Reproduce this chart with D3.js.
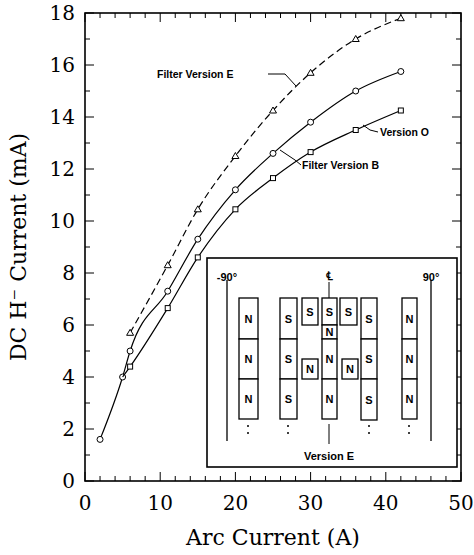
<!DOCTYPE html>
<html><head><meta charset="utf-8">
<script src="https://cdn.jsdelivr.net/npm/d3@7"></script>
<style>body{margin:0;background:#fff}</style>
</head><body><div id="chart"></div>
<script>
var xCircle = [2, 5, 6, 11, 15, 20, 25, 30, 36, 42];
var yCircle = [1.6, 4.0, 5.0, 7.3, 9.3, 11.2, 12.6, 13.8, 15.0, 15.75];
var xSquare = [5, 6, 11, 15, 20, 25, 30, 36, 42];
var ySquare = [4.0, 4.4, 6.65, 8.6, 10.45, 11.65, 12.65, 13.5, 14.25];
var xTri = [6, 11, 15, 20, 25, 30, 36, 42];
var yTri = [5.7, 8.3, 10.45, 12.5, 14.25, 15.7, 17.0, 17.8];
var xTicks = [0, 10, 20, 30, 40, 50];
var yTicks = [0, 2, 4, 6, 8, 10, 12, 14, 16, 18];
// inset magnets: [x0, x1, y0, y1, label] in inset units (0..250 x 0..210)
var magnets = [
  [32,51,40,81,"N"],[32,51,81,121,"N"],[32,51,121,161,"N"],
  [73,90,40,81,"S"],[73,90,81,121,"S"],[73,90,121,161,"S"],
  [95,111,40,67,"S"],[95,111,101,121,"N"],
  [115,130,40,67,"S"],[115,130,67,81,"N"],[115,130,81,121,"N"],[115,130,121,161,"N"],
  [133,150,40,67,"S"],[135,151,101,121,"N"],
  [154,170,40,81,"S"],[154,170,81,121,"S"],[154,170,121,162,"S"],
  [195,210,40,81,"N"],[195,210,81,121,"N"],[195,210,121,161,"N"]
];
var dotCols = [41, 81, 162, 202];

var W = 474, H = 555;
var svg = d3.select("#chart").append("svg").attr("width", W).attr("height", H);
var x = d3.scaleLinear().domain([0, 50]).range([85, 461]);
var y = d3.scaleLinear().domain([0, 18]).range([481, 13]);
var serif = "'DejaVu Serif', serif", sans = "'Liberation Sans', Arial, sans-serif";

svg.append("rect").attr("x", 85).attr("y", 13).attr("width", 376).attr("height", 468)
  .attr("fill", "none").attr("stroke", "#000").attr("stroke-width", 1.6);

// ticks inward, all four sides
d3.range(0, 51, 2).forEach(function(v){
  var len = v % 10 === 0 ? 9 : 5;
  svg.append("line").attr("x1", x(v)).attr("x2", x(v)).attr("y1", 481).attr("y2", 481 - len).attr("stroke", "#000");
  svg.append("line").attr("x1", x(v)).attr("x2", x(v)).attr("y1", 13).attr("y2", 13 + len).attr("stroke", "#000");
});
d3.range(0, 19, 1).forEach(function(v){
  var len = v % 2 === 0 ? 9 : 5;
  svg.append("line").attr("y1", y(v)).attr("y2", y(v)).attr("x1", 85).attr("x2", 85 + len).attr("stroke", "#000");
  svg.append("line").attr("y1", y(v)).attr("y2", y(v)).attr("x1", 461).attr("x2", 461 - len).attr("stroke", "#000");
});
xTicks.forEach(function(v){
  svg.append("text").attr("x", x(v)).attr("y", 510).attr("text-anchor", "middle")
    .attr("font-family", serif).attr("font-size", 20).text(v);
});
yTicks.forEach(function(v){
  svg.append("text").attr("x", 75).attr("y", y(v) + 7).attr("text-anchor", "end")
    .attr("font-family", serif).attr("font-size", 20).text(v);
});
svg.append("text").attr("x", 273).attr("y", 545).attr("text-anchor", "middle")
  .attr("font-family", serif).attr("font-size", 22).text("Arc Current (A)");
svg.append("text").attr("transform", "translate(26,247) rotate(-90)").attr("text-anchor", "middle")
  .attr("font-family", serif).attr("font-size", 22).text("DC H\u207B Current (mA)");

var line = d3.line().curve(d3.curveMonotoneX);
function series(xs, ys, dash){
  var pts = xs.map(function(v, i){ return [x(v), y(ys[i])]; });
  svg.append("path").attr("d", line(pts)).attr("fill", "none").attr("stroke", "#000")
    .attr("stroke-width", 1.2).attr("stroke-dasharray", dash || null);
  return pts;
}
series(xCircle, yCircle).forEach(function(p){
  svg.append("circle").attr("cx", p[0]).attr("cy", p[1]).attr("r", 3).attr("fill", "#fff").attr("stroke", "#000");
});
series(xSquare, ySquare).forEach(function(p, i){
  if (i === 0) return;
  svg.append("rect").attr("x", p[0] - 2.5).attr("y", p[1] - 2.5).attr("width", 5).attr("height", 5).attr("fill", "#fff").attr("stroke", "#000");
});
series(xTri, yTri, "7,4").forEach(function(p){
  svg.append("path").attr("d", "M" + p[0] + "," + (p[1] - 3.5) + "l3.5,6h-7z").attr("fill", "#fff").attr("stroke", "#000");
});

// annotations
function label(tx, ty, t){
  svg.append("text").attr("x", tx).attr("y", ty).attr("font-family", sans).attr("font-weight", "bold")
    .attr("font-size", 10.5).text(t);
}
label(157, 78, "Filter  Version E");
svg.append("path").attr("d", "M268,74 L285,74 L296,86").attr("fill", "none").attr("stroke", "#000");
label(380, 136, "Version O");
svg.append("path").attr("d", "M378,132 L370,130 L363,125").attr("fill", "none").attr("stroke", "#000");
label(302, 169, "Filter Version B");
svg.append("path").attr("d", "M301,165 L295,160 L280,150").attr("fill", "none").attr("stroke", "#000");

// inset
var g = svg.append("g").attr("transform", "translate(207,258)");
g.append("rect").attr("width", 250).attr("height", 209).attr("fill", "#fff").attr("stroke", "#000").attr("stroke-width", 1.6);
magnets.forEach(function(m){
  g.append("rect").attr("x", m[0]).attr("y", m[2]).attr("width", m[1] - m[0]).attr("height", m[3] - m[2])
    .attr("fill", "#fff").attr("stroke", "#000").attr("stroke-width", 1.3);
  g.append("text").attr("x", (m[0] + m[1]) / 2).attr("y", (m[2] + m[3]) / 2 + 4).attr("text-anchor", "middle")
    .attr("font-family", sans).attr("font-weight", "bold").attr("font-size", 11).text(m[4]);
});
dotCols.forEach(function(c){
  [168, 175].forEach(function(dy){
    g.append("circle").attr("cx", c).attr("cy", dy).attr("r", 1).attr("fill", "#000");
  });
});
g.append("line").attr("x1", 20).attr("x2", 20).attr("y1", 22).attr("y2", 183).attr("stroke", "#000").attr("stroke-width", 1.3);
g.append("line").attr("x1", 224).attr("x2", 224).attr("y1", 22).attr("y2", 183).attr("stroke", "#000").attr("stroke-width", 1.3);
g.append("line").attr("x1", 122).attr("x2", 122).attr("y1", 24).attr("y2", 40).attr("stroke", "#000");
g.append("line").attr("x1", 122).attr("x2", 122).attr("y1", 166).attr("y2", 186).attr("stroke", "#000");
g.append("text").attr("x", 20).attr("y", 23).attr("text-anchor", "middle").attr("font-family", sans).attr("font-weight", "bold").attr("font-size", 11).text("-90\u00B0");
g.append("text").attr("x", 224).attr("y", 23).attr("text-anchor", "middle").attr("font-family", sans).attr("font-weight", "bold").attr("font-size", 11).text("90\u00B0");
g.append("text").attr("x", 122).attr("y", 22).attr("text-anchor", "middle").attr("font-family", sans).attr("font-weight", "bold").attr("font-size", 12).text("\u2104");
g.append("text").attr("x", 122).attr("y", 202).attr("text-anchor", "middle").attr("font-family", sans).attr("font-weight", "bold").attr("font-size", 11).text("Version E");
</script></body></html>
